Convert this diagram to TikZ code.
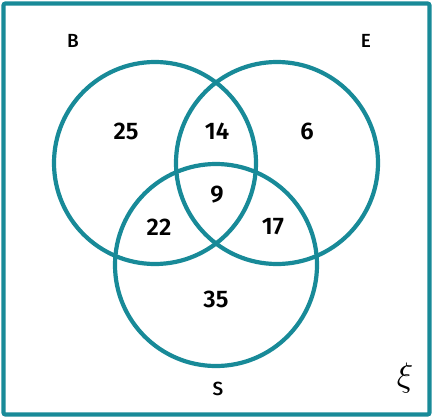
\documentclass[tikz,border=0pt]{standalone}
\usepackage{fontspec}
\setmainfont{Fira Sans}
\newfontfamily\numfont{Fira Sans SemiBold}
\newfontfamily\lblfont{Fira Sans Medium}
\definecolor{teal1}{RGB}{24,138,152}
\begin{document}
\begin{tikzpicture}[x=1pt,y=-1pt,
  ring/.style={draw=teal1,line width=4.2pt},
  num/.style={font=\numfont\fontsize{24}{28}\selectfont,text=black,inner sep=0pt},
  setlbl/.style={font=\lblfont\fontsize{19}{22}\selectfont,text=black,inner sep=0pt}]
\useasboundingbox (0,0) rectangle (433,418);
\draw[draw=teal1,line width=4.2pt,rounded corners=2pt] (3.5,3.5) rectangle (429.5,414.5);
\draw[ring] (155,163) circle (101);
\draw[ring] (277,163) circle (101);
\draw[ring] (216,265) circle (101);
\node[setlbl] (lB) at (73,41) {B};
\node[setlbl] (lE) at (366,41) {E};
\node[setlbl] (lS) at (218,389) {S};
\node[num] (n25) at (126,131) {25};
\node[num] (n14) at (217,131) {14};
\node[num] (n6) at (307,131) {6};
\node[num] (n9) at (217,195) {9};
\node[num] (n22) at (159,227) {22};
\node[num] (n17) at (273,227) {17};
\node[num] (n35) at (216,299) {35};
\node[inner sep=0pt,scale=3.4] (xi) at (405,378) {$\xi$};
\end{tikzpicture}
\end{document}
